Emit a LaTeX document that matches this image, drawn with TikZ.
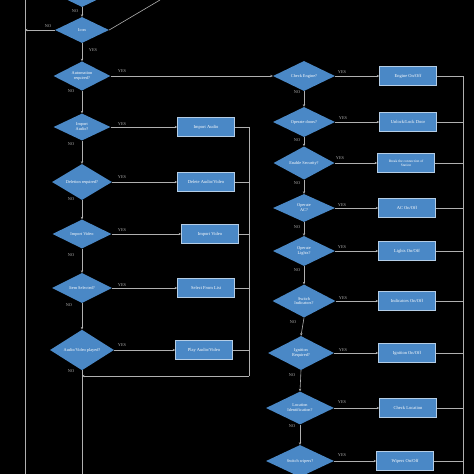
\documentclass[tikz,border=0pt]{standalone}
\usepackage{fontspec}
\setmainfont{Liberation Serif}
\usetikzlibrary{shapes.geometric,arrows.meta}
\definecolor{dblue}{HTML}{4A88C6}
\definecolor{boxedge}{HTML}{B4CDE6}
\definecolor{lgray}{HTML}{B0B0B0}
\begin{document}
\begin{tikzpicture}[x=1pt,y=-1pt,
 dec/.style={diamond,fill=dblue,draw=none,inner sep=0pt,text=white,font=\fontsize{4.3}{4.9}\selectfont,align=center,minimum width=58,minimum height=27},
 act/.style={rectangle,fill=dblue,draw=boxedge,line width=0.5pt,inner sep=0pt,text=white,font=\fontsize{4.5}{5}\selectfont,align=center,minimum width=57,minimum height=19},
 flow/.style={draw=lgray,line width=0.6pt},
 arr/.style={flow,-{Stealth[length=2.6pt,width=2.4pt]}},
 lab/.style={text=lgray,font=\fontsize{4.3}{5}\selectfont,inner sep=0pt}]
\fill[black] (0,0) rectangle (474,474);
\useasboundingbox (0,0) rectangle (474,474);

% left column decisions
\node[dec,minimum width=54,minimum height=26] (d0) at (82,-6) {};
\node[dec,minimum width=54,minimum height=26] (icon) at (82,30) {Icon};
\node[dec,minimum width=57,minimum height=27] (auto) at (82,76) {Automation\\required?};
\node[dec,minimum width=57,minimum height=27] (ia) at (82,127) {Import\\Audio?};
\node[dec,minimum width=60,minimum height=27] (del) at (82,182) {Deletion required?};
\node[dec,minimum width=59,minimum height=29] (iv) at (82,234) {Import Video};
\node[dec,minimum width=60,minimum height=30] (item) at (82,288) {Item Selected?};
\node[dec,minimum width=64,minimum height=34] (avp) at (82,350) {Audio/Video played?};

% left column actions
\node[act] (bia) at (206,127) {Import Audio};
\node[act] (bdel) at (206,182) {Delete Audio/Video};
\node[act] (biv) at (210,234) {Import Video};
\node[act] (bsel) at (206,288) {Select From List};
\node[act] (bplay) at (204,350) {Play Audio/Video};

% right column decisions
\node[dec,minimum width=62,minimum height=26] (ce) at (304,76) {Check Engine?};
\node[dec,minimum width=62,minimum height=28] (od) at (304,122) {Operate doors?};
\node[dec,minimum width=61,minimum height=26] (es) at (304,163) {Enable Security?};
\node[dec,minimum width=62,minimum height=28] (ac) at (304,208) {Operate\\AC?};
\node[dec,minimum width=62,minimum height=30] (ol) at (304,251) {Operate\\Lights?};
\node[dec,minimum width=63,minimum height=33] (si) at (304,301) {Switch\\Indicators?};
\node[dec,minimum width=66,minimum height=34] (ir) at (301,353) {Ignition\\Required?};
\node[dec,minimum width=68,minimum height=32] (li) at (300,408) {Location\\Identification?};
\node[dec,minimum width=68,minimum height=32] (sw) at (300,461) {Switch wipers?};

% right column actions
\node[act] (beng) at (408,76) {Engine On/Off};
\node[act] (bdoor) at (408,122) {Unlock/Lock Door};
\node[act,font=\fontsize{3.6}{4.2}\selectfont] (bsec) at (406,163) {Break the connection of\\Station};
\node[act] (bac) at (407,208) {AC On/Off};
\node[act] (blig) at (407,251) {Lights On/Off};
\node[act] (bind) at (407,301) {Indicators On/Off};
\node[act] (bign) at (407,353) {Ignition On/Off};
\node[act] (bloc) at (408,408) {Check Location};
\node[act] (bwip) at (405,461) {Wipers On/Off};

% coordinates
\coordinate (ltop) at (25,0);
\coordinate (lbot) at (25,474);
\coordinate (lhit) at (25,30);
\coordinate (diag) at (160,0);
\coordinate (abot) at (82,474);
\coordinate (jl) at (82,376);
\coordinate (cl) at (249,376);
\coordinate (rtop) at (463,76);
\coordinate (rbot) at (463,474);

% far-left line
\draw[flow] (ltop) -- (lbot);

% left chain
\draw[arr] (d0.south) -- (icon.north);
\draw[arr] (icon.west) -- (lhit);
\draw[flow] (icon.east) -- (diag);
\draw[arr] (icon.south) -- (auto.north);
\draw[arr] (auto.east) -- (ce.west);
\draw[arr] (auto.south) -- (ia.north);
\draw[arr] (ia.south) -- (del.north);
\draw[arr] (del.south) -- (iv.north);
\draw[arr] (iv.south) -- (item.north);
\draw[arr] (item.south) -- (avp.north);
\draw[flow] (avp.south) -- (abot);

\draw[arr] (ia.east) -- (bia.west);
\draw[arr] (del.east) -- (bdel.west);
\draw[arr] (iv.east) -- (biv.west);
\draw[arr] (item.east) -- (bsel.west);
\draw[arr] (avp.east) -- (bplay.west);

% left collector
\draw[flow] (bia.east) -- (bia.east -| cl) -- (cl);
\draw[arr] (cl) -- (jl);
\draw[flow] (bdel.east) -- (bdel.east -| cl);
\draw[flow] (biv.east) -- (biv.east -| cl);
\draw[flow] (bsel.east) -- (bsel.east -| cl);
\draw[flow] (bplay.east) -- (bplay.east -| cl);

% right chain
\draw[arr] (ce.south) -- (od.north);
\draw[arr] (od.south) -- (es.north);
\draw[arr] (es.south) -- (ac.north);
\draw[arr] (ac.south) -- (ol.north);
\draw[arr] (ol.south) -- (si.north);
\draw[arr] (si.south) -- (ir.north);
\draw[arr] (ir.south) -- (li.north);
\draw[arr] (li.south) -- (sw.north);

\draw[arr] (ce.east) -- (beng.west);
\draw[arr] (od.east) -- (bdoor.west);
\draw[arr] (es.east) -- (bsec.west);
\draw[arr] (ac.east) -- (bac.west);
\draw[arr] (ol.east) -- (blig.west);
\draw[arr] (si.east) -- (bind.west);
\draw[arr] (ir.east) -- (bign.west);
\draw[arr] (li.east) -- (bloc.west);
\draw[arr] (sw.east) -- (bwip.west);

% right collector
\draw[flow] (beng.east) -- (rtop) -- (rbot);
\draw[flow] (bdoor.east) -- (bdoor.east -| rtop);
\draw[flow] (bsec.east) -- (bsec.east -| rtop);
\draw[flow] (bac.east) -- (bac.east -| rtop);
\draw[flow] (blig.east) -- (blig.east -| rtop);
\draw[flow] (bind.east) -- (bind.east -| rtop);
\draw[flow] (bign.east) -- (bign.east -| rtop);
\draw[flow] (bloc.east) -- (bloc.east -| rtop);
\draw[flow] (bwip.east) -- (bwip.east -| rtop);

% labels left
\node[lab] at (75,11) {NO};
\node[lab] at (48,26) {NO};
\node[lab] at (93,50) {YES};
\node[lab] at (122,71) {YES};
\node[lab] at (71,91) {NO};
\node[lab] at (122,124) {YES};
\node[lab] at (71,144) {NO};
\node[lab] at (122,177) {YES};
\node[lab] at (71,199) {NO};
\node[lab] at (122,230) {YES};
\node[lab] at (71,255) {NO};
\node[lab] at (122,285) {YES};
\node[lab] at (69,305) {NO};
\node[lab] at (122,345) {YES};
\node[lab] at (71,371) {NO};

% labels right
\node[lab] at (342,72) {YES};
\node[lab] at (297,92) {NO};
\node[lab] at (343,118) {YES};
\node[lab] at (297,140) {NO};
\node[lab] at (340,158) {YES};
\node[lab] at (297,183) {NO};
\node[lab] at (342,205) {YES};
\node[lab] at (297,227) {NO};
\node[lab] at (342,247) {YES};
\node[lab] at (297,270) {NO};
\node[lab] at (343,298) {YES};
\node[lab] at (293,322) {NO};
\node[lab] at (343,350) {YES};
\node[lab] at (292,375) {NO};
\node[lab] at (342,402) {YES};
\node[lab] at (292,426) {NO};
\node[lab] at (342,455) {YES};
\end{tikzpicture}
\end{document}
